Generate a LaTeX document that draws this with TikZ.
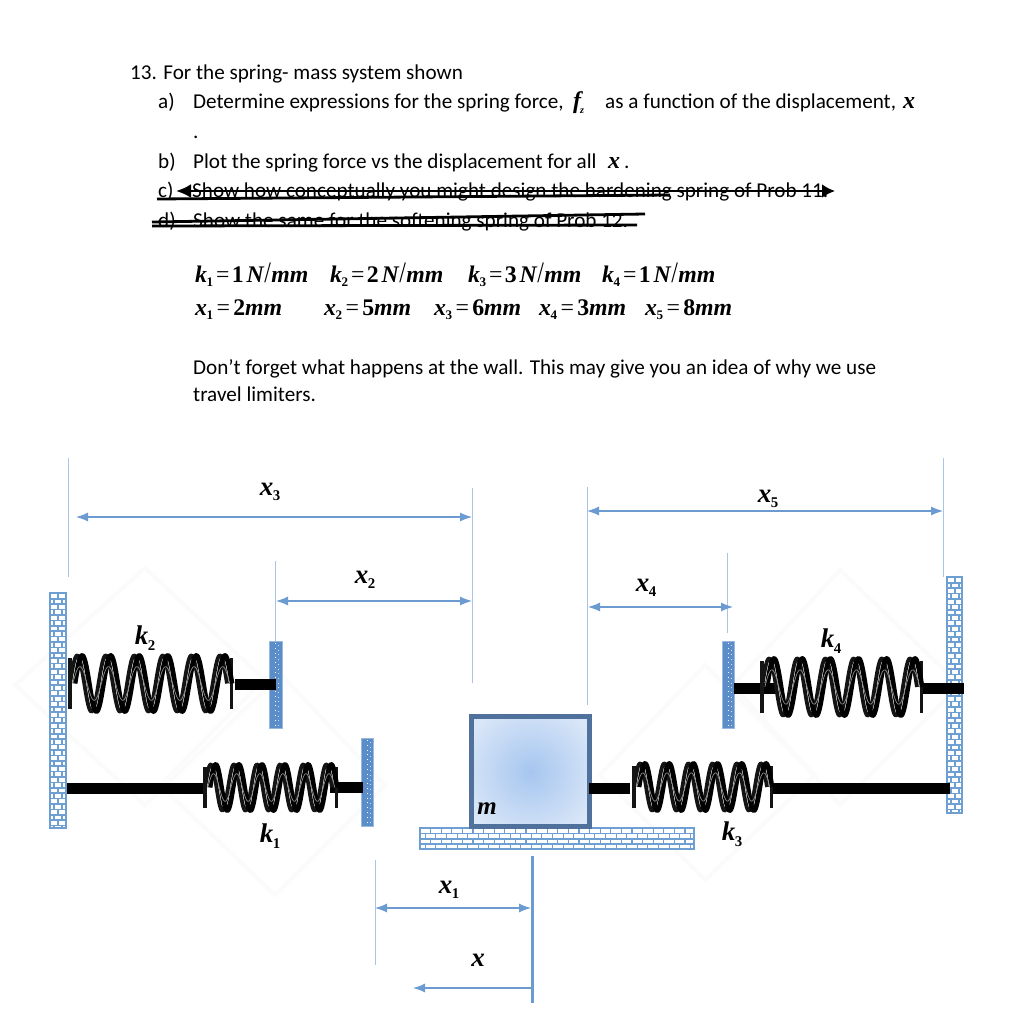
\documentclass[tikz,border=0pt]{standalone}
\usepackage{fontspec}
\setmainfont{Carlito}
\newfontfamily\lser{Liberation Serif}
\usetikzlibrary{arrows.meta}
\definecolor{dimblue}{HTML}{6C9BD2}
\definecolor{dimpale}{HTML}{A9C4E6}
\definecolor{brickblue}{HTML}{6E9FD3}
\definecolor{plateblue}{HTML}{5B8DC8}
\definecolor{massedge}{HTML}{4F719C}
\definecolor{massin}{HTML}{A6C6EF}
\definecolor{massout}{HTML}{DAE7F8}
\newcommand{\bi}[1]{{\lser\bfseries\itshape #1}}
\newcommand{\sym}[2]{{\lser\bfseries\itshape #1\kern-0.02em\raisebox{-.2em}{\scalebox{.55}{\upshape #2}}}}
\newcommand{\rate}[1]{{\lser\kern.12em{=}\kern.1em\bfseries #1\kern.12em{\itshape N}\kern.02em{\mdseries\scalebox{1}[1.25]{/}}\kern.02em{\itshape mm}}}
\newcommand{\lenv}[1]{{\lser\kern.14em{=}\kern.14em\bfseries #1{\itshape mm}}}
% spring: x0, x1, ytop, ybot, coils
\newcommand{\coil}[5]{%
  \pgfmathsetmacro{\cw}{#2-#1-8}
  \pgfmathsetmacro{\cc}{(#3+#4)/2}
  \pgfmathsetmacro{\ch}{(#4-#3)/2-2.4}
  \pgfmathsetmacro{\cend}{180+360*#5}
  \draw[coilback] (#1+2,\cc-\ch+3) -- (#1+2,\cc+\ch-3);
  \draw[coilback] (#2-1.5,\cc-\ch+3) -- (#2-1.5,\cc+\ch-3);
  \draw[coilback] plot[domain=180:\cend,samples=170,smooth]
    ({#1+2+\cw*((\x-180)/(\cend-180))},{\cc+\ch*sin(\x)});
  \draw[coilline] plot[domain=180:\cend,samples=170,smooth]
    ({#1+7+\cw*((\x-180)/(\cend-180))},{\cc+\ch*sin(\x)});
  \draw[coilhi] plot[domain=180:\cend,samples=170,smooth]
    ({#1+4.8+\cw*((\x-180)/(\cend-180))},{\cc+.6*\ch*sin(\x)});
}
% brick texture: x0,y0,x1,y1,brick width,brick height
\newcommand{\bricks}[6]{%
  \begin{scope}
    \clip (#1,#2) rectangle (#3,#4);
    \fill[brickblue] (#1,#2) rectangle (#3,#4);
    \pgfmathtruncatemacro{\nr}{(#4-#2)/#6}
    \pgfmathtruncatemacro{\nc}{(#3-#1)/#5+1}
    \foreach \r in {0,...,\nr}{
      \pgfmathsetmacro{\off}{mod(\r,2)*#5/2}
      \foreach \c in {-1,...,\nc}{
        \fill[white] ({#1+\off+\c*#5+.55},{#2+\r*#6+1.1}) rectangle ({#1+\off+(\c+1)*#5-.55},{#2+(\r+1)*#6-.4});
      }
    }
  \end{scope}
  \draw[brickblue,line width=1.2pt] (#1,#2) rectangle (#3,#4);
}
\newcommand{\plate}[4]{%
  \fill[plateblue] (#1,#2) rectangle (#3,#4);
  \draw[dimpale!80!plateblue,line width=.8pt] (#1,#2) rectangle (#3,#4);
  \draw[white,line width=.8pt,dash pattern=on .8pt off 4pt] ({(#1+#3)/2},{#2+2}) -- ({(#1+#3)/2},{#4-2});
  \draw[white!70!plateblue,line width=.7pt,dash pattern=on .7pt off 4pt] ({(#1+#3)/2+3},{#2+4}) -- ({(#1+#3)/2+3},{#4-2});
}
\tikzset{
  coilline/.style={black,line width=4.8pt,line join=round},
  coilback/.style={black!92,line width=3.8pt,line join=round},
  coilhi/.style={black!45,line width=.7pt},
  rod/.style={fill=black,draw=none},
  body/.style={inner sep=0pt,anchor=base west,font=\fontsize{21.15}{24}\selectfont},
  eqlabel/.style={inner sep=0pt,anchor=base west,font=\fontsize{23.8}{26}\selectfont},
  symlabel/.style={inner sep=0pt,anchor=center,font=\fontsize{27}{30}\selectfont},
  inlinesym/.style={inner sep=0pt,anchor=base west,font=\fontsize{24}{26}\selectfont},
  ext/.style={dimpale,line width=1pt},
  dimline/.style={dimblue,line width=1.2pt,-{Latex[length=12pt,width=9pt]}},
  dimboth/.style={dimblue,line width=1.2pt,{Latex[length=12pt,width=9pt]}-{Latex[length=12pt,width=9pt]}},
  strike/.style={black,line width=2.8pt},
  shadow/.style={black!1.5,line width=4pt,line join=miter},
}
\begin{document}
\begin{tikzpicture}[x=1pt,y=-1pt]
\useasboundingbox (0,0) rectangle (1021,1024);
\fill[white] (0,0) rectangle (1021,1024);

% faint picture frames round the springs
\draw[shadow] (145,568) -- (270,685) -- (145,805) -- (15,685) -- cycle;
\draw[shadow] (275,668) -- (385,785) -- (275,895) -- (160,785) -- cycle;
\draw[shadow] (840,570) -- (960,685) -- (840,805) -- (733,685) -- cycle;
\draw[shadow] (705,665) -- (815,775) -- (705,880) -- (600,775) -- cycle;

% text
\node[body] (t1) at (130,80) {13. For the spring- mass system shown};
\node[body] (t2a) at (158,109) {a)};
\node[body] (t2b) at (193,109) {Determine expressions for the spring force,};
\node[inlinesym] (t2f) at (573,109) {\bi{f}\kern-.05em\raisebox{-.2em}{\scalebox{.42}{\bi{z}}}};
\node[body] (t2c) at (605,109) {as a function of the displacement,};
\node[inlinesym] (t2x) at (903,109) {\bi{x}};
\node[body] (t3) at (193,139) {.};
\node[body] (t4a) at (158,169) {b)};
\node[body] (t4b) at (193,169) {Plot the spring force vs the displacement for all};
\node[inlinesym] (t4x) at (608,169) {\bi{x}};
\node[body] (t4c) at (624,169) {.};
\node[body] (t5a) at (158,198) {c)};
\node[body] (t5b) at (192,198) {Show how conceptually you might design the hardening spring of Prob 11.};
\node[body] (t6a) at (158,228) {d)};
\node[body] (t6b) at (193,228) {Show the same for the softening spring of Prob 12.};
\coordinate (s1a) at (176,191); \coordinate (s1b) at (835,191);
\coordinate (s2a) at (157,199); \coordinate (s2b) at (670,195);
\coordinate (s3a) at (152,222); \coordinate (s3b) at (645,214);
\coordinate (s4a) at (152,226); \coordinate (s4b) at (637,225);
\draw[strike,{Latex[length=15pt,width=14pt]}-{Latex[length=13pt,width=14pt]}] (s1a) -- (s1b);
\draw[strike] (s2a) -- (s2b);
\draw[strike] (s3a) -- (s3b);
\draw[strike] (s4a) -- (s4b);

\node[eqlabel] (k1e) at (195,282) {\sym{k}{1}\rate{1}};
\node[eqlabel] (k2e) at (330,282) {\sym{k}{2}\rate{2}};
\node[eqlabel] (k3e) at (468,282) {\sym{k}{3}\rate{3}};
\node[eqlabel] (k4e) at (602,282) {\sym{k}{4}\rate{1}};
\node[eqlabel] (x1e) at (195,315) {\sym{x}{1}\lenv{2}};
\node[eqlabel] (x2e) at (324,315) {\sym{x}{2}\lenv{5}};
\node[eqlabel] (x3e) at (434,315) {\sym{x}{3}\lenv{6}};
\node[eqlabel] (x4e) at (539,315) {\sym{x}{4}\lenv{3}};
\node[eqlabel] (x5e) at (645,315) {\sym{x}{5}\lenv{8}};

\node[body] (t7) at (193,374) {Don’t forget what happens at the wall. This may give you an idea of why we use};
\node[body] (t8) at (193,401) {travel limiters.};

% extension lines
\coordinate (e1a) at (68,458);  \coordinate (e1b) at (68,577);
\coordinate (e2a) at (275,561); \coordinate (e2b) at (275,641);
\coordinate (e3a) at (472,488); \coordinate (e3b) at (472,683);
\coordinate (e4a) at (587,487); \coordinate (e4b) at (587,705);
\coordinate (e5a) at (727,553); \coordinate (e5b) at (727,633);
\coordinate (e6a) at (943,458); \coordinate (e6b) at (943,577);
\coordinate (e7a) at (375,860); \coordinate (e7b) at (375,965);
\coordinate (e8a) at (532,856); \coordinate (e8b) at (532,1003);
\foreach \n in {1,...,7}{\draw[ext] (e\n a) -- (e\n b);}
\draw[dimblue,line width=3pt] (e8a) -- (e8b);

% dimension arrows
\coordinate (d3a) at (76,517);  \coordinate (d3b) at (472,517);
\coordinate (d2a) at (276,601); \coordinate (d2b) at (472,601);
\coordinate (d5a) at (587,511); \coordinate (d5b) at (943,511);
\coordinate (d4a) at (588,607); \coordinate (d4b) at (733,607);
\coordinate (d1a) at (375,908); \coordinate (d1b) at (531,908);
\coordinate (d0a) at (531,988); \coordinate (d0b) at (413,988);
\draw[dimboth] (d3a) -- (d3b);
\draw[dimboth] (d2a) -- (d2b);
\draw[dimboth] (d5a) -- (d5b);
\draw[dimboth] (d4a) -- (d4b);
\draw[dimboth] (d1a) -- (d1b);
\draw[dimline] (d0a) -- (d0b);

% walls
\bricks{50}{593}{66}{828}{8}{5.4}
\bricks{947}{577}{962}{813}{8}{5.4}
\bricks{420}{828}{694}{849}{10.6}{5.2}

% plates
\plate{269}{641}{282}{728}
\plate{361}{738}{373}{826}
\plate{722}{641}{734}{728}

% mass
\fill[massout] (471,716) rectangle (590,827);
\begin{scope}
  \clip (471,716) rectangle (590,827);
  \shade[inner color=massin,outer color=massout] (530.5,771.5) circle (72);
\end{scope}
\draw[massedge,line width=5pt] (471.5,716.5) rectangle (589.5,826);
\node[inner sep=0pt,font=\fontsize{25}{26}\selectfont] (mlab) at (487,809) {\bi{m}};

% rods
\fill[rod] (235,679) rectangle (276,690);
\fill[rod] (67,783) rectangle (204,794);
\fill[rod] (330,782) rectangle (363,793);
\fill[rod] (589,783) rectangle (630,794);
\fill[rod] (770,783) rectangle (950,794);
\fill[rod] (734,683) rectangle (775,694);
\fill[rod] (922,683) rectangle (964,694);

% springs
\coil{68}{233}{653}{714}{5.5}
\coil{203}{338}{762}{813}{5.5}
\coil{632}{773}{761}{813}{5.5}
\coil{760}{923}{656}{718}{5.5}

% labels
\node[symlabel] (lk2) at (145,638) {\sym{k}{2}};
\node[symlabel] (lk1) at (270,836) {\sym{k}{1}};
\node[symlabel] (lk3) at (732,834) {\sym{k}{3}};
\node[symlabel] (lk4) at (831,641) {\sym{k}{4}};
\node[symlabel] (lx3) at (270,492) {\sym{x}{3}};
\node[symlabel] (lx2) at (365,580) {\sym{x}{2}};
\node[symlabel] (lx5) at (768,499) {\sym{x}{5}};
\node[symlabel] (lx4) at (646,588) {\sym{x}{4}};
\node[symlabel] (lx1) at (449,890) {\sym{x}{1}};
\node[symlabel] (lx0) at (478,960) {\bi{x}};
\end{tikzpicture}
\end{document}
